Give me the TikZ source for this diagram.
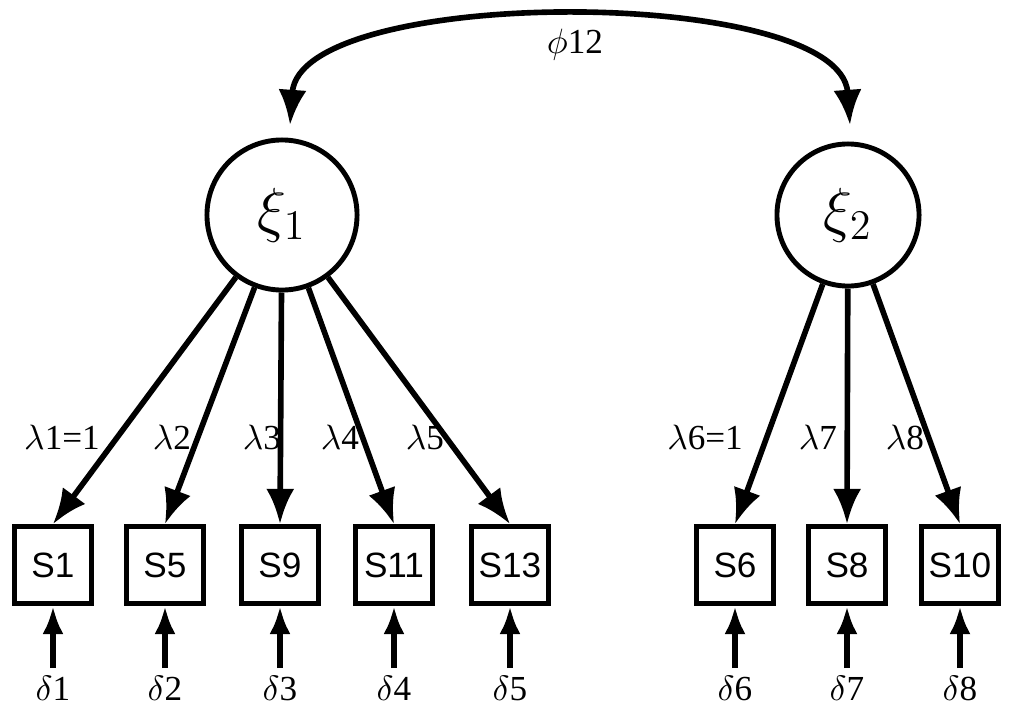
\documentclass[tikz,border=0pt]{standalone}
\usepackage{fontspec}
\setmainfont{Liberation Serif}
\newfontfamily\sansf{Liberation Sans}
\usetikzlibrary{arrows.meta}
\begin{document}
\begin{tikzpicture}[x=0.01cm,y=-0.01cm,
  obs/.style={draw,line width=1.4pt,minimum width=0.77cm,minimum height=0.77cm,inner sep=0pt,font=\sansf},
  arr/.style={line width=1.6pt,-{Latex[length=10pt,width=8pt]}},
  lab/.style={font=\normalsize}]
\useasboundingbox (0,0) rectangle (1021,709);
\node[circle,draw,line width=1.4pt,minimum size=1.5cm,inner sep=0pt,font=\LARGE] (x1) at (282,215) {$\xi_1$};
\node[circle,draw,line width=1.4pt,minimum size=1.42cm,inner sep=0pt,font=\LARGE] (x2) at (848,215) {$\xi_2$};
\foreach \n/\x/\d in {S1/53/1,S5/165/2,S9/280/3,S11/394/4,S13/510/5,S6/735/6,S8/847/7,S10/960/8}{
  \node[obs] (\n) at (\x,565) {\n};
  \coordinate (d\d) at (\x,668);
  \node[lab] (dl\d) at (\x,688) {$\delta$\d};
  \draw[arr,-{Latex[length=8pt,width=6pt]}] (d\d) -- (\n.south);
}
\foreach \n in {S1,S5,S9,S11,S13}{\draw[arr] (x1) -- (\n.north);}
\foreach \n in {S6,S8,S10}{\draw[arr] (x2) -- (\n.north);}
\coordinate (a1) at (290,125);
\coordinate (a2) at (850,125);
\draw[arr,{Latex[length=10pt,width=8pt]}-{Latex[length=10pt,width=8pt]}] (a1) .. controls (300,-15) and (840,-15) .. (a2);
\node[lab] (phi) at (575,45) {$\phi$12};
\node[lab] (l1) at (62,437) {$\lambda$1=1};
\node[lab] (l2) at (172,437) {$\lambda$2};
\node[lab] (l3) at (262,437) {$\lambda$3};
\node[lab] (l4) at (340,437) {$\lambda$4};
\node[lab] (l5) at (425,437) {$\lambda$5};
\node[lab] (l6) at (705,437) {$\lambda$6=1};
\node[lab] (l7) at (818,437) {$\lambda$7};
\node[lab] (l8) at (905,437) {$\lambda$8};
\end{tikzpicture}
\end{document}
